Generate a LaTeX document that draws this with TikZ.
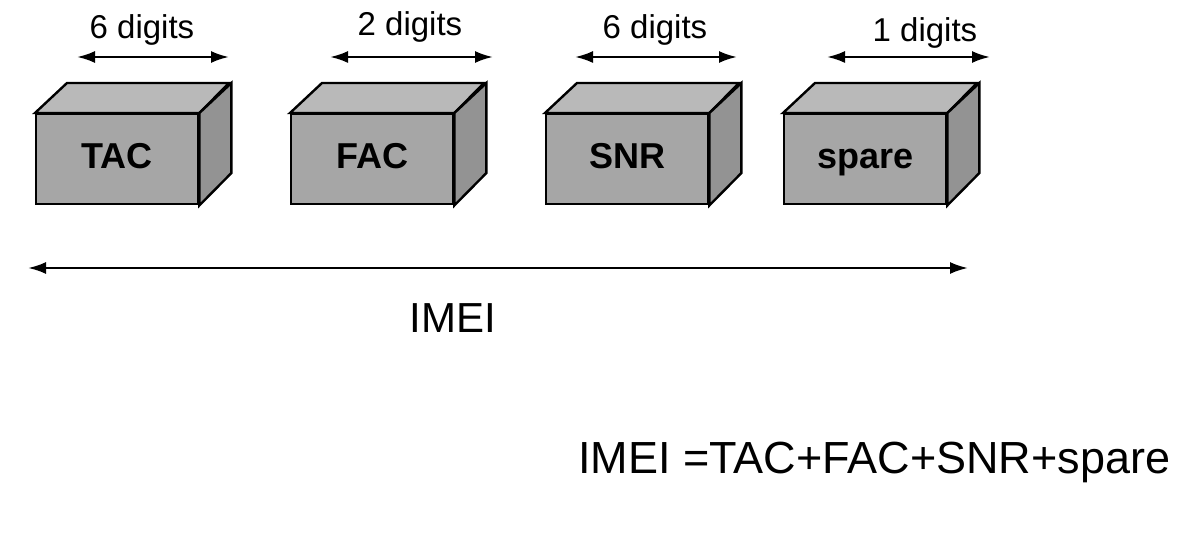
\documentclass[tikz,border=0pt]{standalone}
\usepackage{fontspec}
\usetikzlibrary{arrows.meta}
\setmainfont{Liberation Sans}
\begin{document}
\begin{tikzpicture}[x=0.5pt,y=-0.5pt,
  front/.style={draw=black,line width=1.2pt,fill=gray!70,minimum width=81pt,minimum height=45pt,inner sep=0pt,text height=13pt,text depth=4pt,font=\bfseries\fontsize{18}{21}\selectfont},
  lbl/.style={font=\fontsize{16.5}{19}\selectfont},
  dim/.style={{Latex[length=9pt,width=6pt]}-{Latex[length=9pt,width=6pt]},line width=1.2pt}]
\useasboundingbox (0,0) rectangle (1200,533);
\fill[white] (0,0) rectangle (1200,533);
\foreach \n/\x/\t in {tac/35/TAC,fac/290/FAC,snr/545/SNR,spare/783/spare}{
  \node[front,anchor=north west] (\n) at (\x,113) {\t};
  \draw[line width=1.2pt,fill=gray!55] (\n.north west) -- ++(32,-30) -- ++(162,0) -- (\n.north east) -- cycle;
  \draw[line width=1.2pt,fill=gray!85] (\n.north east) -- ++(32,-30) -- ++(0,90) -- (\n.south east) -- cycle;
}
\coordinate (a1) at (77,57); \coordinate (a2) at (229,57);
\coordinate (b1) at (330,57); \coordinate (b2) at (493,57);
\coordinate (c1) at (575,57); \coordinate (c2) at (737,57);
\coordinate (d1) at (827,57); \coordinate (d2) at (990,57);
\draw[dim] (a1) -- (a2); \draw[dim] (b1) -- (b2); \draw[dim] (c1) -- (c2); \draw[dim] (d1) -- (d2);
\node[lbl] (ta) at (142,30) {6 digits};
\node[lbl] (fa) at (410,27) {2 digits};
\node[lbl] (sa) at (655,30) {6 digits};
\node[lbl] (pa) at (925,33) {1 digits};
\coordinate (i1) at (28,268); \coordinate (i2) at (968,268);
\draw[dim] (i1) -- (i2);
\node[font=\fontsize{21}{24}\selectfont] (imei) at (453,318) {IMEI};
\node[anchor=west,inner sep=0pt,font=\fontsize{22.5}{26}\selectfont] (form) at (578,462) {IMEI =TAC+FAC+SNR+spare};
\end{tikzpicture}
\end{document}
